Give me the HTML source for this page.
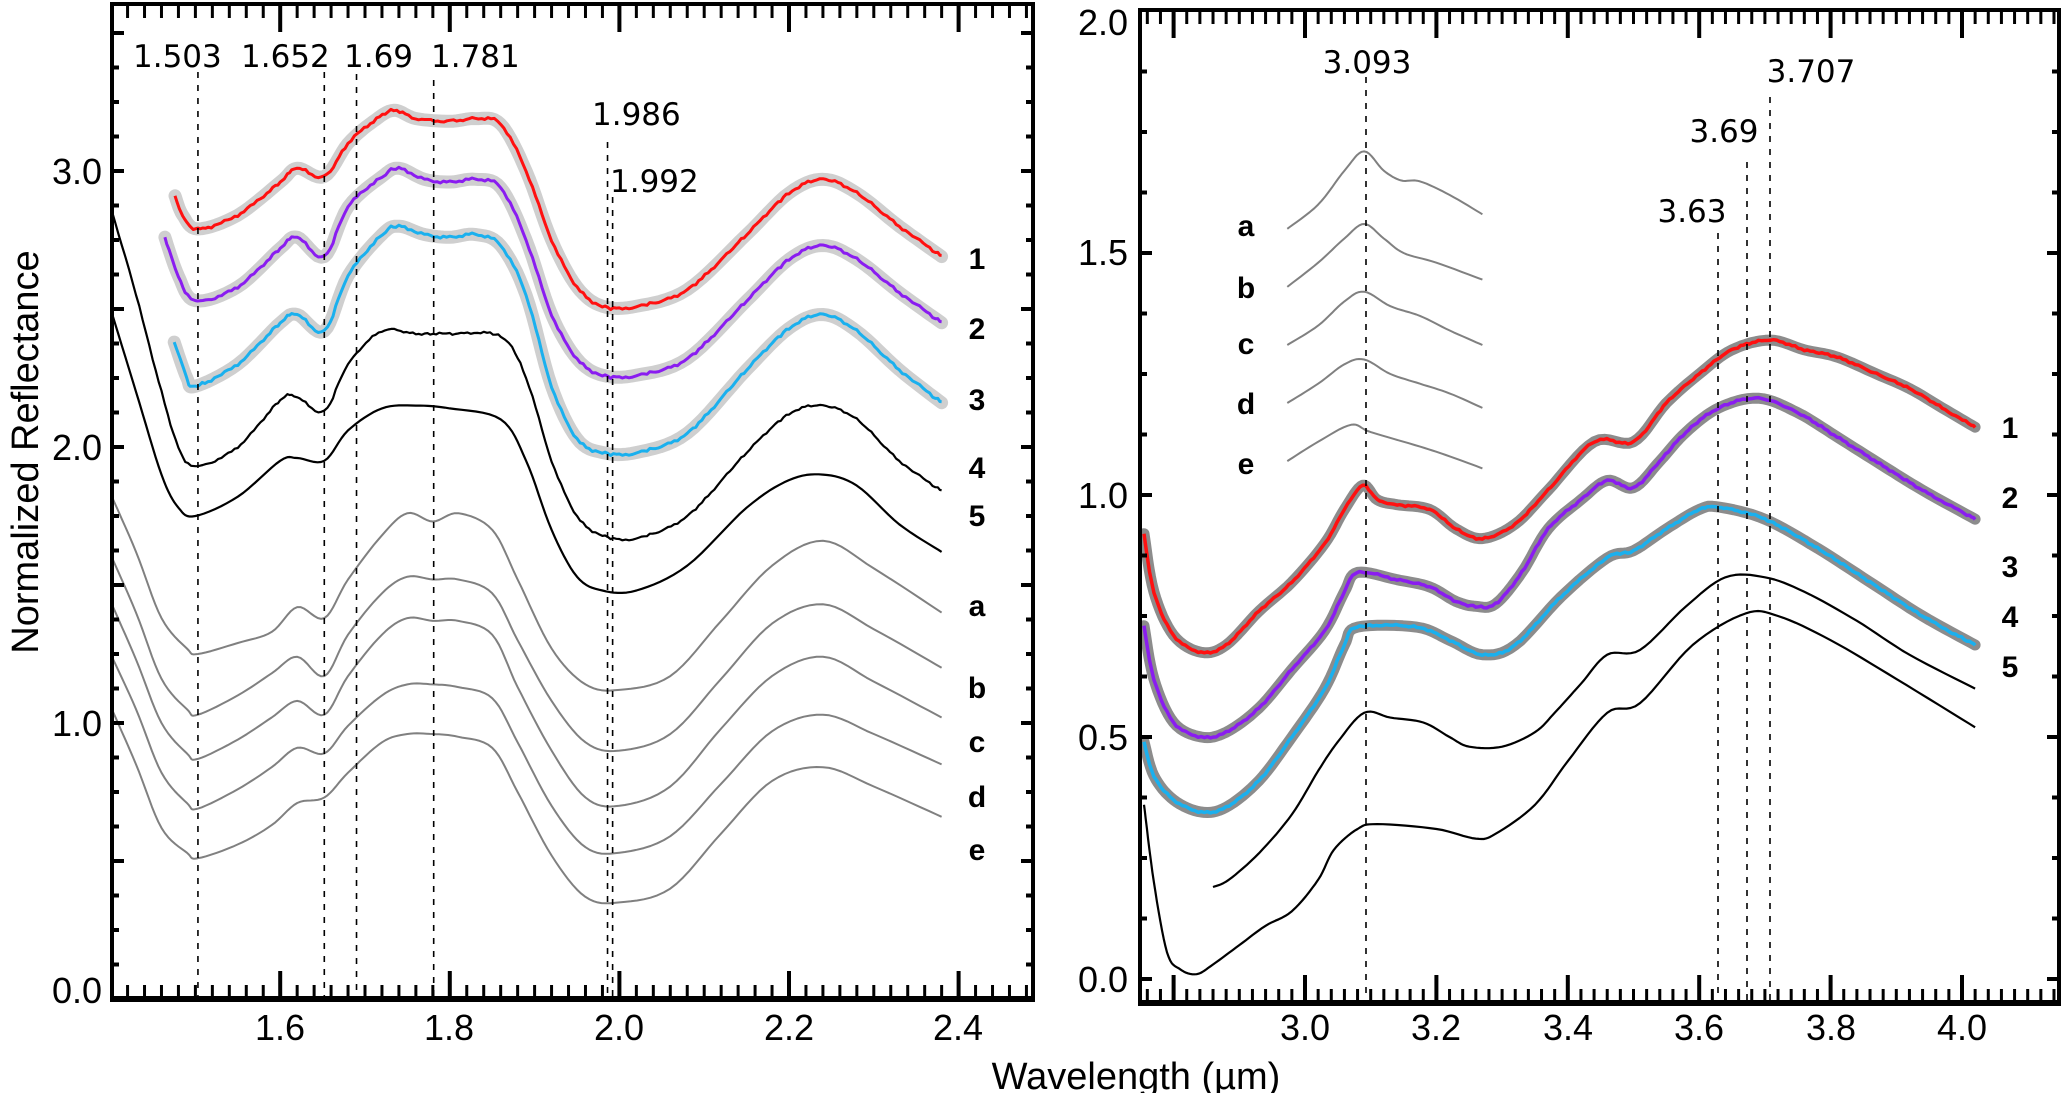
<!DOCTYPE html>
<html><head><meta charset="utf-8"><style>
html,body{margin:0;padding:0;background:#fff;}
svg{display:block;}
.tk{font-family:"Liberation Sans",sans-serif;font-size:36px;fill:#000;}
.ann{font-family:"DejaVu Sans",sans-serif;font-size:31px;fill:#000;}
.lb{font-family:"Liberation Sans",sans-serif;font-size:30px;font-weight:bold;fill:#000;}
</style></head><body>
<svg id="s" width="2064" height="1093" viewBox="0 0 2064 1093" xmlns="http://www.w3.org/2000/svg">
<defs>
<clipPath id="cL"><rect x="114" y="6" width="917" height="991"/></clipPath>
<clipPath id="cR"><rect x="1142" y="12" width="915" height="989"/></clipPath>
</defs>
<g id="L" clip-path="url(#cL)"></g>
<g id="R" clip-path="url(#cR)"></g>
<g id="ax"></g>
<g class="ann">
<text x="133" y="67">1.503</text>
<text x="241" y="67">1.652</text>
<text x="344" y="67">1.69</text>
<text x="431" y="67">1.781</text>
<text x="592" y="125">1.986</text>
<text x="610" y="192">1.992</text>
<text x="1367" y="73" text-anchor="middle">3.093</text>
<text x="1811" y="82" text-anchor="middle">3.707</text>
<text x="1724" y="142" text-anchor="middle">3.69</text>
<text x="1692" y="222" text-anchor="middle">3.63</text>
</g>
<g class="lb" text-anchor="middle">
<text x="977" y="269">1</text><text x="977" y="339">2</text><text x="977" y="410">3</text>
<text x="977" y="478">4</text><text x="977" y="526">5</text>
<text x="977" y="616">a</text><text x="977" y="698">b</text><text x="977" y="752">c</text>
<text x="977" y="807">d</text><text x="977" y="860">e</text>
<text x="1246" y="236">a</text><text x="1246" y="298">b</text><text x="1246" y="354">c</text>
<text x="1246" y="414">d</text><text x="1246" y="474">e</text>
<text x="2010" y="438">1</text><text x="2010" y="508">2</text><text x="2010" y="577">3</text>
<text x="2010" y="627">4</text><text x="2010" y="677">5</text>
</g>
<g class="tk">
<text x="102" y="1003" text-anchor="end">0.0</text>
<text x="102" y="736" text-anchor="end">1.0</text>
<text x="102" y="460" text-anchor="end">2.0</text>
<text x="102" y="184" text-anchor="end">3.0</text>
<text x="280" y="1040" text-anchor="middle">1.6</text>
<text x="449" y="1040" text-anchor="middle">1.8</text>
<text x="619" y="1040" text-anchor="middle">2.0</text>
<text x="789" y="1040" text-anchor="middle">2.2</text>
<text x="958" y="1040" text-anchor="middle">2.4</text>
<text x="1128" y="992" text-anchor="end">0.0</text>
<text x="1128" y="750" text-anchor="end">0.5</text>
<text x="1128" y="508" text-anchor="end">1.0</text>
<text x="1128" y="265" text-anchor="end">1.5</text>
<text x="1128" y="35" text-anchor="end">2.0</text>
<text x="1305" y="1040" text-anchor="middle">3.0</text>
<text x="1436" y="1040" text-anchor="middle">3.2</text>
<text x="1568" y="1040" text-anchor="middle">3.4</text>
<text x="1699" y="1040" text-anchor="middle">3.6</text>
<text x="1831" y="1040" text-anchor="middle">3.8</text>
<text x="1962" y="1040" text-anchor="middle">4.0</text>
<text x="1136" y="1089" text-anchor="middle" font-size="38">Wavelength (µm)</text>
<text transform="translate(38,452) rotate(-90)" text-anchor="middle" font-size="38">Normalized Reflectance</text>
</g>
</svg>
<script>
var NS="http://www.w3.org/2000/svg";
function el(p,t,a){var e=document.createElementNS(NS,t);for(var k in a)e.setAttribute(k,a[k]);p.appendChild(e);return e;}
function Lx(l){return 110.6+(l-1.4)*848;} function Ly(v){return 999-v*276;}
function Rx(l){return 1305+(l-3)*657;} function Ry(v){return 979-v*484;}
function path(pts,fx,fy,noise){
 var P=pts.map(function(p){return [fx(p[0]),fy(p[1])];});
 var d="M"+P[0][0].toFixed(1)+","+P[0][1].toFixed(1);
 for(var i=0;i<P.length-1;i++){
  var p0=P[Math.max(0,i-1)],p1=P[i],p2=P[i+1],p3=P[Math.min(P.length-1,i+2)];
  var N=noise?Math.max(2,Math.round((p2[0]-p1[0])/3)):8;
  for(var j=1;j<=N;j++){var t=j/N,t2=t*t,t3=t2*t;
   var x=0.5*((2*p1[0])+(-p0[0]+p2[0])*t+(2*p0[0]-5*p1[0]+4*p2[0]-p3[0])*t2+(-p0[0]+3*p1[0]-3*p2[0]+p3[0])*t3);
   var y=0.5*((2*p1[1])+(-p0[1]+p2[1])*t+(2*p0[1]-5*p1[1]+4*p2[1]-p3[1])*t2+(-p0[1]+3*p1[1]-3*p2[1]+p3[1])*t3);
   if(noise) y+= (Math.sin(x*1.7)*0.5+Math.sin(x*3.1)*0.5)*noise;
   d+="L"+x.toFixed(1)+","+y.toFixed(1);}
 }
 return d;}
var gL=document.getElementById("L"),gR=document.getElementById("R"),ax=document.getElementById("ax");
function draw(g,pts,fx,fy,col,w,halo,hw,noise){
 if(halo) el(g,"path",{d:path(pts,fx,fy,0),fill:"none",stroke:halo,"stroke-width":hw,"stroke-linejoin":"round","stroke-linecap":"round"});
 el(g,"path",{d:path(pts,fx,fy,noise||0),fill:"none",stroke:col,"stroke-width":w,"stroke-linejoin":"round"});}
[[1.503,72],[1.652,72],[1.69,74],[1.781,80],[1.986,142],[1.992,197]].forEach(function(a){
 el(ax,"line",{x1:Lx(a[0]),x2:Lx(a[0]),y1:a[1],y2:999,stroke:"#000","stroke-width":1.6,"stroke-dasharray":"6,7"});});
[[1366,77],[1718,233],[1747,162],[1770,97]].forEach(function(a){
 el(ax,"line",{x1:a[0],x2:a[0],y1:a[1],y2:1003,stroke:"#000","stroke-width":1.6,"stroke-dasharray":"6,7"});});
var red=[[1.476,2.91],[1.485,2.84],[1.503,2.79],[1.55,2.84],[1.60,2.96],[1.62,3.01],[1.652,2.98],[1.68,3.10],[1.71,3.18],[1.734,3.22],[1.76,3.19],[1.80,3.18],[1.83,3.19],[1.86,3.17],[1.89,3.00],[1.92,2.75],[1.95,2.58],[1.98,2.51],[2.02,2.51],[2.08,2.57],[2.15,2.77],[2.20,2.92],[2.24,2.97],[2.28,2.92],[2.33,2.80],[2.38,2.69]];
var pur=[[1.464,2.76],[1.48,2.62],[1.50,2.53],[1.55,2.58],[1.60,2.72],[1.62,2.76],[1.652,2.69],[1.68,2.87],[1.72,2.98],[1.74,3.01],[1.77,2.97],[1.80,2.96],[1.83,2.97],[1.86,2.94],[1.89,2.75],[1.92,2.48],[1.95,2.32],[1.98,2.26],[2.02,2.26],[2.08,2.32],[2.15,2.53],[2.20,2.68],[2.24,2.73],[2.28,2.68],[2.33,2.56],[2.38,2.45]];
var cya=[[1.475,2.38],[1.49,2.25],[1.50,2.22],[1.55,2.30],[1.60,2.45],[1.62,2.48],[1.652,2.42],[1.68,2.62],[1.72,2.77],[1.74,2.80],[1.77,2.77],[1.80,2.76],[1.83,2.77],[1.86,2.73],[1.89,2.55],[1.92,2.22],[1.95,2.03],[1.98,1.98],[2.02,1.98],[2.08,2.05],[2.15,2.28],[2.20,2.43],[2.24,2.48],[2.28,2.42],[2.33,2.28],[2.38,2.16]];
var b4=[[1.40,2.87],[1.43,2.55],[1.46,2.20],[1.48,2.00],[1.50,1.93],[1.55,2.00],[1.60,2.17],[1.62,2.18],[1.652,2.13],[1.68,2.30],[1.72,2.42],[1.76,2.41],[1.80,2.41],[1.86,2.40],[1.89,2.25],[1.92,1.95],[1.95,1.75],[1.98,1.68],[2.02,1.67],[2.08,1.75],[2.15,1.98],[2.20,2.12],[2.24,2.15],[2.28,2.10],[2.33,1.95],[2.38,1.84]];
var b5=[[1.40,2.50],[1.43,2.20],[1.46,1.90],[1.48,1.78],[1.50,1.75],[1.55,1.82],[1.60,1.95],[1.62,1.96],[1.652,1.95],[1.68,2.06],[1.72,2.14],[1.76,2.15],[1.80,2.14],[1.86,2.10],[1.89,1.95],[1.92,1.70],[1.95,1.53],[1.98,1.48],[2.02,1.48],[2.08,1.57],[2.15,1.78],[2.20,1.88],[2.24,1.90],[2.28,1.86],[2.33,1.72],[2.38,1.62]];
var GL=[1.40,1.43,1.46,1.49,1.503,1.55,1.59,1.62,1.652,1.68,1.72,1.75,1.78,1.81,1.85,1.88,1.92,1.96,2.00,2.06,2.12,2.18,2.24,2.30,2.38];
var GV=[[1.83,1.62,1.38,1.27,1.25,1.29,1.33,1.42,1.38,1.52,1.68,1.76,1.73,1.76,1.70,1.52,1.27,1.14,1.12,1.17,1.37,1.57,1.66,1.56,1.40],
[1.61,1.40,1.16,1.05,1.03,1.10,1.18,1.24,1.17,1.32,1.47,1.53,1.52,1.52,1.47,1.30,1.08,0.93,0.90,0.96,1.16,1.36,1.43,1.34,1.20],
[1.44,1.23,1.00,0.89,0.87,0.94,1.02,1.08,1.03,1.17,1.32,1.38,1.37,1.37,1.32,1.13,0.90,0.73,0.70,0.77,0.98,1.17,1.24,1.15,1.02],
[1.25,1.05,0.82,0.71,0.69,0.76,0.84,0.91,0.89,0.99,1.10,1.14,1.14,1.13,1.09,0.93,0.70,0.55,0.53,0.59,0.78,0.97,1.03,0.96,0.85],
[1.06,0.85,0.62,0.53,0.51,0.56,0.63,0.71,0.73,0.82,0.93,0.96,0.96,0.95,0.91,0.75,0.52,0.37,0.35,0.40,0.60,0.79,0.84,0.77,0.66]];
GV.forEach(function(v){draw(gL,GL.map(function(l,i){return [l,v[i]];}),Lx,Ly,"#808080",2);});
draw(gL,b5,Lx,Ly,"#000",2.2);
draw(gL,b4,Lx,Ly,"#000",2.2,null,0,1.2);
draw(gL,cya,Lx,Ly,"#1ab0ee",3,"#cfcfcf",13,1.5);
draw(gL,pur,Lx,Ly,"#8a1cf0",3,"#cfcfcf",13,1.5);
draw(gL,red,Lx,Ly,"#ff1010",3,"#cfcfcf",13,1.5);
var rr=[[2.755,0.92],[2.77,0.80],[2.80,0.71],[2.842,0.675],[2.88,0.69],[2.93,0.76],[2.98,0.82],[3.03,0.90],[3.06,0.97],[3.088,1.02],[3.11,0.99],[3.14,0.98],[3.19,0.97],[3.23,0.93],[3.27,0.91],[3.32,0.94],[3.37,1.01],[3.44,1.11],[3.50,1.11],[3.55,1.19],[3.60,1.25],[3.65,1.30],[3.708,1.32],[3.76,1.30],[3.81,1.285],[3.87,1.25],[3.92,1.22],[3.97,1.18],[4.02,1.14]];
var rp=[[2.755,0.73],[2.77,0.62],[2.80,0.53],[2.842,0.50],[2.88,0.51],[2.93,0.56],[2.98,0.64],[3.03,0.72],[3.06,0.80],[3.08,0.84],[3.14,0.825],[3.19,0.81],[3.23,0.78],[3.26,0.77],[3.29,0.775],[3.33,0.84],[3.37,0.93],[3.42,0.99],[3.46,1.03],[3.50,1.015],[3.54,1.07],[3.58,1.13],[3.63,1.18],[3.69,1.20],[3.75,1.17],[3.81,1.12],[3.88,1.06],[3.94,1.01],[4.02,0.95]];
var rc=[[2.755,0.49],[2.77,0.42],[2.80,0.37],[2.842,0.345],[2.88,0.355],[2.93,0.41],[2.98,0.50],[3.03,0.60],[3.06,0.69],[3.08,0.727],[3.17,0.727],[3.22,0.70],[3.27,0.67],[3.32,0.69],[3.39,0.79],[3.46,0.87],[3.50,0.885],[3.55,0.93],[3.60,0.97],[3.63,0.975],[3.70,0.95],[3.78,0.89],[3.86,0.82],[3.94,0.75],[4.02,0.69]];
var r4=[[2.86,0.19],[2.884,0.205],[2.93,0.26],[2.98,0.34],[3.02,0.43],[3.05,0.49],[3.09,0.55],[3.13,0.54],[3.18,0.53],[3.22,0.50],[3.25,0.48],[3.30,0.48],[3.35,0.51],[3.38,0.55],[3.42,0.61],[3.46,0.67],[3.51,0.68],[3.58,0.77],[3.64,0.83],[3.70,0.83],[3.76,0.80],[3.84,0.74],[3.92,0.67],[4.02,0.60]];
var r5=[[2.755,0.36],[2.77,0.20],[2.79,0.055],[2.81,0.02],[2.835,0.01],[2.86,0.03],[2.90,0.07],[2.94,0.11],[2.98,0.14],[3.02,0.205],[3.044,0.267],[3.08,0.31],[3.11,0.32],[3.20,0.31],[3.26,0.29],[3.29,0.30],[3.35,0.36],[3.40,0.45],[3.46,0.55],[3.51,0.57],[3.59,0.69],[3.67,0.755],[3.72,0.75],[3.80,0.70],[3.90,0.62],[4.02,0.52]];
var ins=[[[2.973,1.55],[3.02,1.60],[3.06,1.67],[3.09,1.71],[3.12,1.67],[3.146,1.65],[3.175,1.648],[3.22,1.62],[3.27,1.58]],
[[2.973,1.43],[3.02,1.48],[3.06,1.53],[3.09,1.56],[3.12,1.53],[3.15,1.50],[3.20,1.48],[3.27,1.445]],
[[2.973,1.31],[3.02,1.35],[3.06,1.40],[3.09,1.42],[3.13,1.39],[3.175,1.37],[3.22,1.34],[3.27,1.31]],
[[2.973,1.19],[3.02,1.23],[3.06,1.27],[3.09,1.28],[3.13,1.25],[3.175,1.23],[3.22,1.21],[3.27,1.18]],
[[2.973,1.07],[3.02,1.11],[3.07,1.145],[3.10,1.13],[3.175,1.10],[3.22,1.08],[3.27,1.055]]];
ins.forEach(function(p){draw(gR,p,Rx,Ry,"#808080",2);});
draw(gR,r5,Rx,Ry,"#000",2.2);
draw(gR,r4,Rx,Ry,"#000",2.2);
draw(gR,rc,Rx,Ry,"#1ab0ee",3.5,"#8c8c8c",11,1);
draw(gR,rp,Rx,Ry,"#8a1cf0",3.5,"#8c8c8c",11,1);
draw(gR,rr,Rx,Ry,"#ff1010",3.5,"#8c8c8c",11,1);
function box(x1,y1,x2,y2){el(ax,"rect",{x:x1,y:y1,width:x2-x1,height:y2-y1,fill:"none",stroke:"#000","stroke-width":4});
 el(ax,"line",{x1:x1-2,x2:x2+2,y1:y2,y2:y2,stroke:"#000","stroke-width":6});}
box(112,4,1033,999); box(1140,10,2059,1003);
function xt(fx,l0,l1,yb,yt,x1,x2){for(var i=Math.round(l0*50);i<=l1*50;i++){var x=fx(i/50);if(x<x1+3||x>x2-3)continue;var maj=(i%10==0);var L=maj?28:14;
 el(ax,"line",{x1:x,x2:x,y1:yb,y2:yb-L,stroke:"#000","stroke-width":maj?4:3});
 el(ax,"line",{x1:x,x2:x,y1:yt,y2:yt+L,stroke:"#000","stroke-width":maj?4:3});}}
xt(Lx,1.4,2.5,999,4,112,1033); xt(Rx,2.74,4.16,1003,10,1140,2059);
function yt(fy,v1,xl,xr,y1,y2){for(var i=0;i<=v1*8;i++){var y=fy(i/8);if(y<y1+3||y>y2-3)continue;var maj=(i%4==0);var L=maj?12:7;
 el(ax,"line",{x1:xl,x2:xl+L,y1:y,y2:y,stroke:"#000","stroke-width":4});
 el(ax,"line",{x1:xr,x2:xr-L,y1:y,y2:y,stroke:"#000","stroke-width":4});}}
yt(Ly,3.6,112,1033,4,999); yt(Ry,2.0,1140,2059,10,1003);
</script>
</body></html>
